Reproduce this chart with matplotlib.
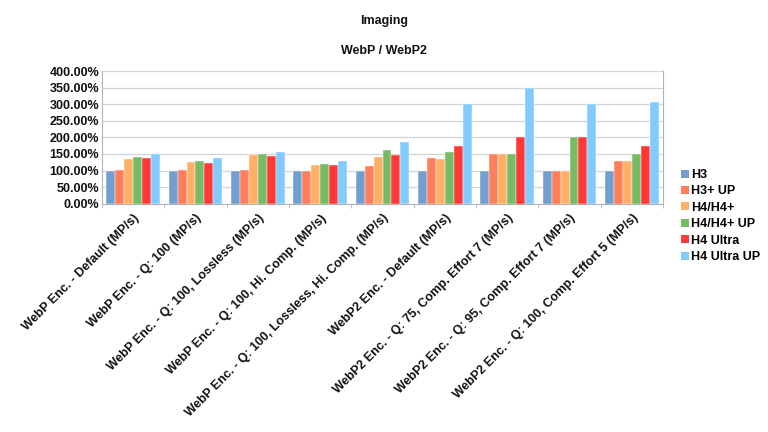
import matplotlib
matplotlib.use("Agg")
import matplotlib.pyplot as plt
import numpy as np
from matplotlib.patches import Patch
from matplotlib.ticker import FuncFormatter, MultipleLocator

plt.rcParams["font.family"] = ["Liberation Sans", "DejaVu Sans"]
plt.rcParams["font.weight"] = "bold"

categories = [
    "WebP Enc. - Default (MP/s)",
    "WebP Enc. - Q: 100 (MP/s)",
    "WebP Enc. - Q: 100, Lossless (MP/s)",
    "WebP Enc. - Q: 100, Hi. Comp. (MP/s)",
    "WebP Enc. - Q: 100, Lossless, Hi. Comp. (MP/s)",
    "WebP2 Enc. - Default (MP/s)",
    "WebP2 Enc. - Q: 75, Comp. Effort 7 (MP/s)",
    "WebP2 Enc. - Q: 95, Comp. Effort 7 (MP/s)",
    "WebP2 Enc. - Q: 100, Comp. Effort 5 (MP/s)",
]
series_names = ["H3", "H3+ UP", "H4/H4+", "H4/H4+ UP", "H4 Ultra", "H4 Ultra UP"]
h3 = [100, 100, 100, 100, 100, 100, 100, 100, 100]
h3_up = [102, 101, 101, 100, 113, 137, 150, 100, 129]
h4 = [136, 125, 146, 117, 142, 134, 150, 100, 129]
h4_up = [142, 129, 150, 121, 163, 155, 150, 200, 150]
h4_ultra = [137, 124, 145, 117, 146, 175, 200, 200, 175]
h4_ultra_up = [150, 137, 157, 128, 185, 300, 350, 300, 307]
colors = ["#729fcf", "#ff7f5c", "#ffb066", "#77bc65", "#ff3838", "#83caff"]

values = [h3, h3_up, h4, h4_up, h4_ultra, h4_ultra_up]

fig = plt.figure(figsize=(7.68, 4.32), dpi=100)
ax = fig.add_axes([0.1328, 0.5285, 0.7305, 0.307])

x = np.arange(len(categories))
width = 0.86 / len(series_names)
for i, (name, vals) in enumerate(zip(series_names, values)):
    offset = (i - (len(series_names) - 1) / 2) * width
    ax.bar(x + offset, vals, width, color=colors[i], label=name,
           edgecolor="white", linewidth=0.3, zorder=3)

ax.set_xlim(-0.5, len(categories) - 0.5)
ax.set_ylim(0, 400)
ax.yaxis.set_major_locator(MultipleLocator(50))
ax.yaxis.set_major_formatter(FuncFormatter(lambda v, p: f"{v:.2f}%"))
ax.grid(axis="y", color="#d4d4d4", linewidth=0.9, zorder=0)
ax.set_axisbelow(True)

ax.set_xticks(x)
ax.set_xticklabels(categories, rotation=45, ha="right", rotation_mode="anchor",
                   fontsize=9, fontweight="bold", color="#111111")
ax.set_xticks(np.arange(-0.5, len(categories)), minor=True)
ax.tick_params(axis="x", which="major", length=0, pad=6)
ax.tick_params(axis="x", which="minor", length=3, color="#b3b3b3")
ax.tick_params(axis="y", length=0, labelsize=9, labelcolor="#111111", pad=2)
for lbl in ax.get_yticklabels():
    lbl.set_fontweight("bold")

for side in ["top", "right", "left", "bottom"]:
    ax.spines[side].set_color("#b3b3b3")
    ax.spines[side].set_linewidth(0.8)
ax.spines["top"].set_visible(False)

fig.text(0.5, 1 - 21 / 432, "Imaging", ha="center", va="center",
         fontsize=9, fontweight="bold", color="#111111")
fig.text(0.5, 1 - 51 / 432, "WebP / WebP2", ha="center", va="center",
         fontsize=9, fontweight="bold", color="#111111")

handles = [Patch(facecolor=c, edgecolor="none") for c in colors]
fig.legend(handles, series_names, loc="center left",
           bbox_to_anchor=(681 / 768, 1 - 216 / 432), frameon=False,
           handlelength=0.6, handleheight=0.6, handletextpad=0.2,
           labelspacing=0.35, borderpad=0, borderaxespad=0,
           prop={"size": 9, "weight": "bold"})

fig.savefig("out.png", dpi=100)
